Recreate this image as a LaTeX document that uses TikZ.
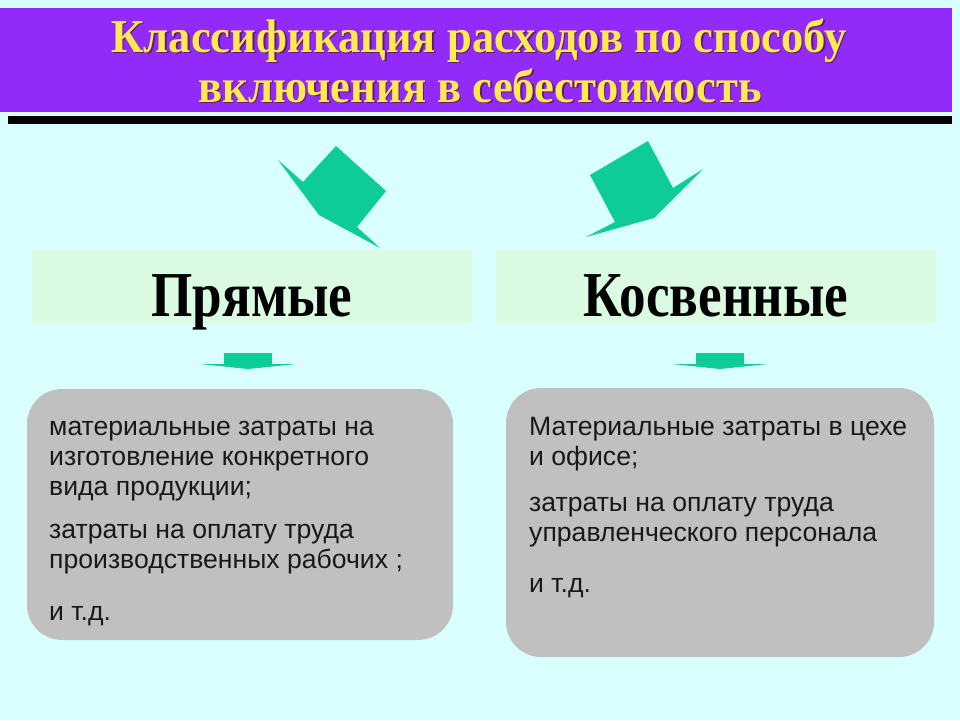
\documentclass[tikz,border=0pt]{standalone}
\usepackage{fontspec}
\setmainfont{Liberation Sans}
\newfontfamily\titlefont[FakeStretch=0.95]{Liberation Serif Bold}
\newfontfamily\headfont[FakeStretch=0.83]{Liberation Serif Bold}
\definecolor{bg}{RGB}{217,255,255}
\definecolor{purp}{RGB}{146,43,250}
\definecolor{ttl}{RGB}{255,232,80}
\definecolor{ttlshadow}{RGB}{90,30,120}
\definecolor{headbg}{RGB}{218,251,226}
\definecolor{grayb}{RGB}{192,192,192}
\definecolor{agreen}{RGB}{14,204,152}
\definecolor{txt}{RGB}{25,25,25}
\tikzset{
  titletext/.style={inner sep=0pt, text=ttl, font=\titlefont\fontsize{47}{50}\selectfont},
  titleshadow/.style={inner sep=0pt, text=ttlshadow, font=\titlefont\fontsize{47}{50}\selectfont},
  headbox/.style={fill=headbg, draw=none, minimum width=440pt, minimum height=73pt, inner sep=0pt},
  headtext/.style={inner sep=0pt, text=black, font=\headfont\fontsize{64}{70}\selectfont},
  graybox/.style={fill=grayb, draw=none, rounded corners=35pt, inner sep=0pt},
  bodytext/.style={inner sep=0pt, text=txt, font=\fontsize{26.6}{30}\selectfont, anchor=base west},
  blockarrow/.style={fill=agreen, draw=none}
}
\begin{document}
\begin{tikzpicture}[x=1pt,y=-1pt]
\useasboundingbox (0,0) rectangle (960,720);
\fill[bg] (0,0) rectangle (960,720);
% title bar
\fill[purp] (0,8) rectangle (952,112);
\fill[black] (8,116) rectangle (952,124);
\node[titleshadow, anchor=base] (t1s) at (480.5,53.5) {Классификация расходов по способу};
\node[titleshadow, anchor=base] (t2s) at (481.5,103.5) {включения в себестоимость};
\node[titletext, anchor=base] (t1) at (479,52) {Классификация расходов по способу};
\node[titletext, anchor=base] (t2) at (480,102) {включения в себестоимость};
% big block arrows
\fill[blockarrow] (278,160) -- (303,182) -- (336,146) -- (386,191) -- (357,227) -- (380,248) -- (319,215) -- cycle;
\fill[blockarrow] (590,175) -- (648,141) -- (673,188) -- (703,169) -- (654,218) -- (586,237) -- (615,222) -- cycle;
% heading boxes
\node[headbox] (hl) at (252,286.5) {};
\node[headbox] (hr) at (716,286.5) {};
\node[headtext, anchor=base] (hlt) at (252,316) {Прямые};
\node[headtext, anchor=base] (hrt) at (716,316) {Косвенные};
% small arrows
\fill[blockarrow] (224,353) rectangle (272,365);
\fill[blockarrow] (200,364) -- (296,364) -- (248,369) -- cycle;
\fill[blockarrow] (696,353) rectangle (744,365);
\fill[blockarrow] (672,364) -- (768,364) -- (720,369) -- cycle;
% gray boxes
\node[graybox, minimum width=426pt, minimum height=251pt] (bl) at (240,514.5) {};
\node[graybox, minimum width=428pt, minimum height=269pt] (br) at (720,522.5) {};
% left text
\node[bodytext] (l1) at (49,435) {материальные затраты на};
\node[bodytext] (l2) at (49,465) {изготовление конкретного};
\node[bodytext] (l3) at (49,495) {вида продукции;};
\node[bodytext] (l4) at (49,538) {затраты на оплату труда};
\node[bodytext] (l5) at (49,568) {производственных рабочих ;};
\node[bodytext] (l6) at (49,620) {и т.д.};
% right text
\node[bodytext] (r1) at (529,435) {Материальные затраты в цехе};
\node[bodytext] (r2) at (529,465) {и офисе;};
\node[bodytext] (r3) at (529,511) {затраты на оплату труда};
\node[bodytext] (r4) at (529,541) {управленческого персонала};
\node[bodytext] (r5) at (529,592) {и т.д.};
\end{tikzpicture}
\end{document}
